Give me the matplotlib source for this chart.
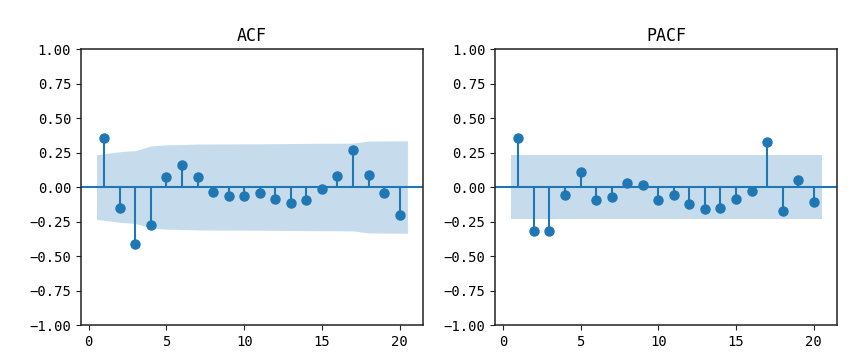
import matplotlib
matplotlib.use("Agg")
import matplotlib.pyplot as plt
import numpy as np

plt.rcParams['font.family'] = ['DejaVu Sans Mono', 'DejaVu Sans']
plt.rcParams['axes.linewidth'] = 1.1
plt.rcParams['axes.edgecolor'] = '#222222'

lags = np.arange(1, 21)
acf_vals = [0.353, -0.150, -0.413, -0.273, 0.072, 0.162, 0.075, -0.036, -0.065, -0.065,
            -0.043, -0.085, -0.114, -0.092, -0.012, 0.082, 0.271, 0.089, -0.046, -0.200]
acf_band = [0.234, 0.256, 0.264, 0.297, 0.306, 0.308, 0.311, 0.312, 0.312, 0.313,
            0.313, 0.314, 0.315, 0.316, 0.317, 0.317, 0.318, 0.333, 0.334, 0.335]
pacf_vals = [0.357, -0.319, -0.316, -0.060, 0.111, -0.092, -0.070, 0.029, 0.014, -0.092,
             -0.060, -0.126, -0.157, -0.150, -0.087, -0.031, 0.329, -0.176, 0.048, -0.106]
pacf_band = [0.233] * 20
titles = ["ACF", "PACF"]

fig = plt.figure(figsize=(8.65, 3.62), dpi=100)
ax1 = fig.add_axes([0.0936, 0.1022, 0.3954, 0.7624])
ax2 = fig.add_axes([0.5723, 0.1022, 0.3954, 0.7624])

C = '#1f77b4'
for ax, vals, band, title in [(ax1, acf_vals, acf_band, titles[0]),
                              (ax2, pacf_vals, pacf_band, titles[1])]:
    vals = np.array(vals)
    band = np.array(band)
    ax.vlines(lags, [0], vals, colors=C, linewidth=1.5)
    ax.axhline(0, color=C, linewidth=1.5)
    ax.margins(0.05)
    ax.plot(lags, vals, marker='o', markersize=6.5, linestyle='None', color=C)
    x = lags.astype(float).copy()
    x[0] -= 0.5
    x[-1] += 0.5
    ax.fill_between(x, -band, band, alpha=0.25, color=C, linewidth=0)
    ax.set_ylim(-1, 1)
    ax.set_yticks(np.arange(-1, 1.01, 0.25))
    ax.set_xticks([0, 5, 10, 15, 20])
    ax.set_title(title, fontsize=12)
    ax.tick_params(labelsize=10, color='#222222')

fig.savefig("out.png", dpi=100)
